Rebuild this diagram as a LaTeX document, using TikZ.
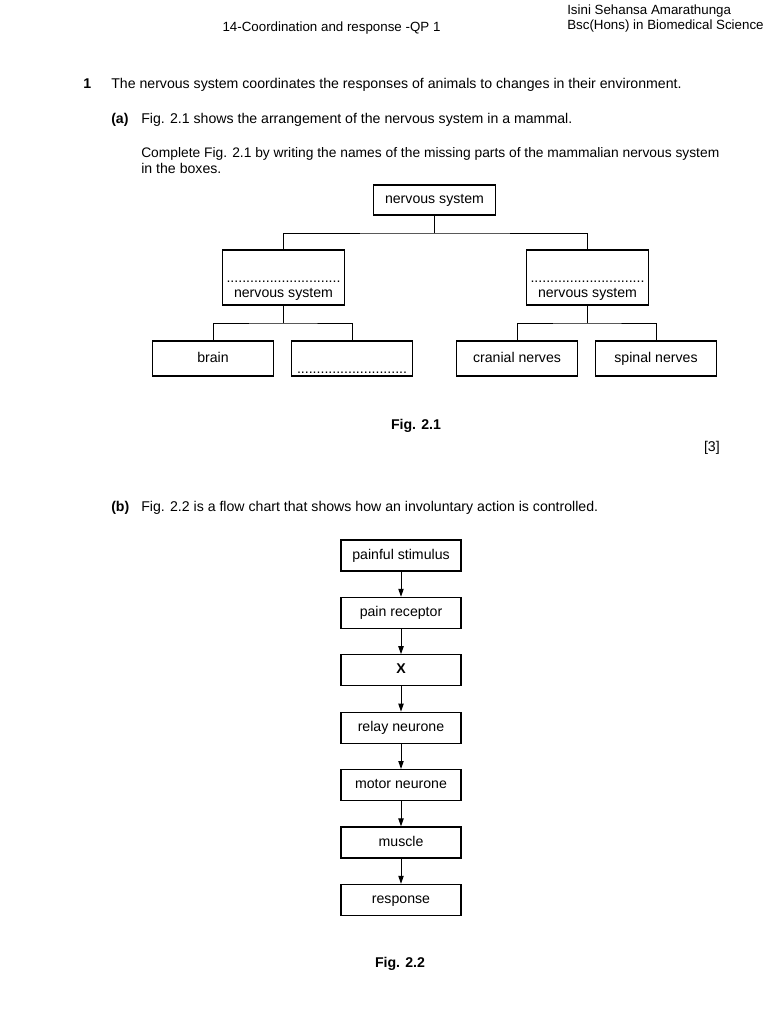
\documentclass[tikz,border=0pt]{standalone}
\usepackage{fontspec}
\setmainfont{Liberation Sans}
\usetikzlibrary{arrows.meta}

\begin{document}
\begin{tikzpicture}[x=0.75pt,y=-0.75pt,color=black,font=\fontsize{10.6}{12.7}\selectfont,
  box/.style={draw,line width=0.9pt,minimum width=91pt,minimum height=26.25pt,inner sep=0pt,text height=8pt,text depth=2.5pt},
  flow/.style={draw,line width=0.9pt,minimum width=90pt,minimum height=23.25pt,inner sep=0pt,text height=8pt,text depth=2.5pt},
  txt/.style={anchor=base west,inner sep=0pt},
  head/.style={inner sep=0pt,font=\fontsize{10}{12}\selectfont},
  link/.style={line width=0.75pt},
  arr/.style={line width=0.75pt,-{Triangle[length=6pt,width=4pt]}}]

\useasboundingbox (0,0) rectangle (768,1024);

% header
\node (hdr) [head,anchor=base] at (331.5,31.5) {14-Coordination and response -QP 1};
\node (auth1) [head,anchor=base west] at (567,14.5) {Isini Sehansa Amarathunga};
\node (auth2) [head,anchor=base west] at (567,29.5) {Bsc(Hons) in Biomedical Science};

% question text
\node (q1) [txt] at (83,89) {\textbf{1}};
\node (q1t) [txt] at (111,89) {The nervous system coordinates the responses of animals to changes in their environment.};
\node (qa) [txt] at (111,123) {\textbf{(a)}};
\node (qat) [txt] at (141,123) {Fig. 2.1 shows the arrangement of the nervous system in a mammal.};
\node (qc1) [txt,font=\fontsize{10.35}{12.7}\selectfont] at (141,157) {Complete Fig. 2.1 by writing the names of the missing parts of the mammalian nervous system};
\node (qc2) [txt] at (141,173) {in the boxes.};

% Fig. 2.1
\node (top) at (434.5,200)[box,minimum width=92pt,minimum height=22.5pt]{nervous system};
\node (left) at (283.5,277.5)[box,minimum height=41.25pt]{};
\node (right) at (587.5,277.5)[box,minimum height=41.25pt]{};
\node (ldots) [anchor=base,inner sep=0pt] at (283.5,282) {.............................};
\node (ltxt) [anchor=base,inner sep=0pt] at (283.5,297) {nervous system};
\node (rdots) [anchor=base,inner sep=0pt] at (587.5,282) {.............................};
\node (rtxt) [anchor=base,inner sep=0pt] at (587.5,297) {nervous system};

\node (brain) at (213,358.5)[box]{brain};
\node (blank) at (352,358.5)[box]{};
\node (bdots) [anchor=base,inner sep=0pt] at (352,373) {............................};
\node (cranial) at (517,358.5)[box]{cranial nerves};
\node (spinal) at (656,358.5)[box]{spinal nerves};

\draw[link] (top.south) |- (434.5,233) coordinate (tj);
\draw[link] (left.north) |- (tj) -| (right.north);
\draw[link] (left.south) -- (283.5,323) coordinate (lj);
\draw[link] (brain.north) |- (lj) -| (blank.north);
\draw[link] (right.south) -- (587.5,323) coordinate (rj);
\draw[link] (cranial.north) |- (rj) -| (spinal.north);

\node (fig1) [anchor=base,inner sep=0pt] at (416,429) {\textbf{Fig. 2.1}};
\node (mark) [anchor=base east,inner sep=0pt] at (720,451) {[3]};

% Fig. 2.2
\node (qb) [txt] at (111,511) {\textbf{(b)}};
\node (qbt) [txt] at (141,511) {Fig. 2.2 is a flow chart that shows how an involuntary action is controlled.};

\foreach \t [count=\i] in {painful stimulus,pain receptor,\textbf{X},relay neurone,motor neurone,muscle,response}
{
\node (f\i) at (401,555.5+57.4*\i-57.4)[flow]{\t};
}

\foreach \i in {1,...,6}
{
\pgfmathtruncatemacro\j{\i+1}
\draw[arr] (f\i) -- (f\j);
}

\node (fig2) [anchor=base,inner sep=0pt] at (400,967) {\textbf{Fig. 2.2}};

\end{tikzpicture}
\end{document}
